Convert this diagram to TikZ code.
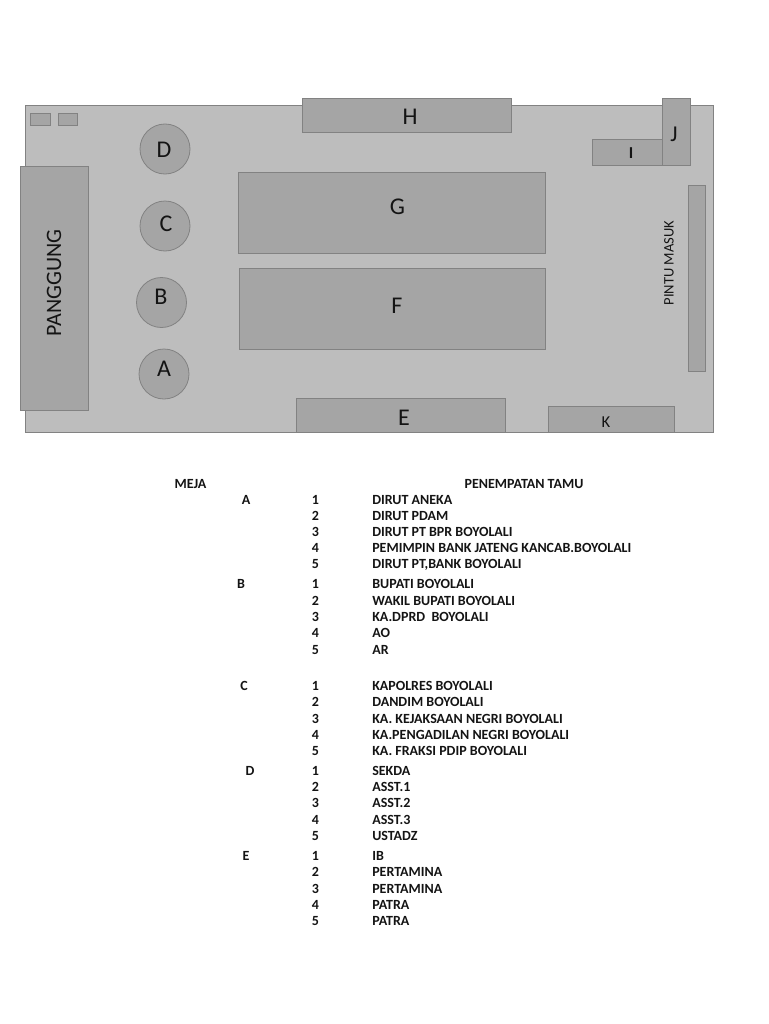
\documentclass[tikz,border=0pt]{standalone}
\usepackage{fontspec}
\setmainfont{Carlito}
\usetikzlibrary{math}
\definecolor{qhall}{RGB}{189,189,189}
\definecolor{qbox}{RGB}{165,165,165}
\definecolor{qline}{RGB}{130,130,130}
\definecolor{qtext}{RGB}{20,20,20}
\tikzset{
  meja/.style={draw=qline,fill=qbox,line width=0.6pt},
  bulat/.style={meja,circle,inner sep=0pt,minimum size=37.5pt},
  huruf/.style={font=\fontsize{18}{18}\selectfont,text=qtext,inner sep=0pt},
  baris/.style={font=\fontsize{10.5}{11}\selectfont\bfseries,text=qtext,inner sep=0pt,anchor=base west},
  angka/.style={font=\fontsize{10.5}{11}\selectfont\bfseries,text=qtext,inner sep=0pt,anchor=base},
}
\begin{document}
\begin{tikzpicture}[x=0.75pt,y=-0.75pt]
\useasboundingbox (0,0) rectangle (768,1024);
%hall
\draw[meja,fill=qhall] (25,105) rectangle (713,432);
\draw[meja] (30.5,113) rectangle (50,125);
\draw[meja] (58,113) rectangle (77.5,125);
%tables
\draw[meja] (20.5,166) rectangle (88,410);
\draw[meja] (302,98.5) rectangle (511,132.5);
\draw[meja] (238.5,172.5) rectangle (545.5,253.5);
\draw[meja] (239,268.5) rectangle (545.5,349.5);
\draw[meja] (296,398) rectangle (505,432);
\draw[meja] (548,406.5) rectangle (674,432);
\draw[meja] (592,139) rectangle (662,165);
\draw[meja] (662,98.5) rectangle (690,165);
\draw[meja] (688.5,185) rectangle (705,371);
%round tables
\foreach \m/\xc/\yc/\xl/\yl in {D/165/149/164/150,C/165/226/166/224,B/161.5/302.5/161/297,A/164/374/164/369}{
  \node[bulat] (bulat\m) at (\xc,\yc) {};
  \node[huruf] (huruf\m) at (\xl,\yl) {\m};
}
%labels
\node[huruf,rotate=90,font=\fontsize{16.5}{17}\selectfont] (panggung) at (54,283) {PANGGUNG};
\node[huruf] (hurufH) at (410,117) {H};
\node[huruf] (hurufG) at (397.5,207) {G};
\node[huruf] (hurufF) at (397,306) {F};
\node[huruf] (hurufE) at (404,418) {E};
\node[huruf,font=\fontsize{12.5}{13}\selectfont] (hurufK) at (606,422.5) {K};
\node[huruf,font=\fontsize{12.5}{13}\selectfont\bfseries] (hurufI) at (631,153) {I};
\node[huruf,font=\fontsize{17}{17}\selectfont] (hurufJ) at (674,134) {J};
\node[huruf,rotate=90,font=\fontsize{10.9}{11}\selectfont] (pintu) at (669,263) {PINTU MASUK};
%list
\node[angka] (meja) at (190.5,488) {MEJA};
\node[angka] (tamu) at (524,488) {PENEMPATAN TAMU};
\node[angka] (listA) at (246,504.5) {A};
\foreach \i/\yp/\nama in {1/504.5/DIRUT ANEKA,2/520.5/DIRUT PDAM,3/536.5/DIRUT PT BPR BOYOLALI,4/552.5/PEMIMPIN BANK JATENG KANCAB.BOYOLALI,5/568.5/{DIRUT PT,BANK BOYOLALI}}{
  \node[angka] (noA\i) at (315.5,\yp) {\i};
  \node[baris] (tamuA\i) at (372,\yp) {\nama};
}
\node[angka] (listB) at (241,588.5) {B};
\foreach \i/\yp/\nama in {1/588.5/BUPATI BOYOLALI,2/605/WAKIL BUPATI BOYOLALI,3/621.5/KA.DPRD\ \ BOYOLALI,4/637.5/AO,5/654.5/AR}{
  \node[angka] (noB\i) at (315.5,\yp) {\i};
  \node[baris] (tamuB\i) at (372,\yp) {\nama};
}
\node[angka] (listC) at (244,690) {C};
\foreach \i/\yp/\nama in {1/690/KAPOLRES BOYOLALI,2/706.5/DANDIM BOYOLALI,3/723/KA. KEJAKSAAN NEGRI BOYOLALI,4/739/KA.PENGADILAN NEGRI BOYOLALI,5/755.5/KA. FRAKSI PDIP BOYOLALI}{
  \node[angka] (noC\i) at (315.5,\yp) {\i};
  \node[baris] (tamuC\i) at (372,\yp) {\nama};
}
\node[angka] (listD) at (250,775.5) {D};
\foreach \i/\yp/\nama in {1/775.5/SEKDA,2/791.5/ASST.1,3/807.5/ASST.2,4/824/ASST.3,5/840.5/USTADZ}{
  \node[angka] (noD\i) at (315.5,\yp) {\i};
  \node[baris] (tamuD\i) at (372,\yp) {\nama};
}
\node[angka] (listE) at (246,860.5) {E};
\foreach \i/\yp/\nama in {1/860.5/IB,2/876.5/PERTAMINA,3/893/PERTAMINA,4/909.5/PATRA,5/925.5/PATRA}{
  \node[angka] (noE\i) at (315.5,\yp) {\i};
  \node[baris] (tamuE\i) at (372,\yp) {\nama};
}
\end{tikzpicture}
\end{document}
